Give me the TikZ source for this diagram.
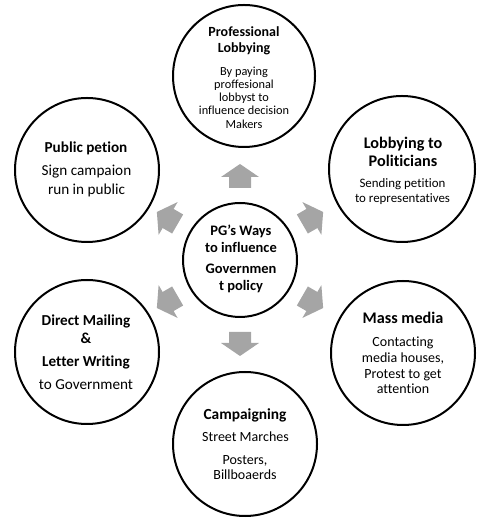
\documentclass[tikz,border=0pt]{standalone}
\usepackage{fontspec}
\setmainfont{Carlito}[Ligatures={NoCommon}]
\definecolor{arrowgray}{HTML}{A5A5A5}
\begin{document}
\begin{tikzpicture}[x=1pt,y=1pt,
  circ/.style={draw=black, line width=2pt, circle, inner sep=0pt, fill=white},
  ttl/.style={align=center, inner sep=0pt, font=\bfseries},
  txt/.style={align=center, inner sep=0pt},
  blockarrow/.style={fill=arrowgray, draw=none}]
\useasboundingbox (0,0) rectangle (500,526);
% circles
\node[circ, minimum size=142pt] (top) at (244,450) {};
\node[circ, minimum size=144pt] (ul) at (87,356) {};
\node[circ, minimum size=146pt] (ur) at (402,357) {};
\node[circ, minimum size=114pt] (ctr) at (240,266) {};
\node[circ, minimum size=144pt] (ll) at (87,174) {};
\node[circ, minimum size=144pt] (lr) at (403,173) {};
\node[circ, minimum size=144pt] (bot) at (245,82) {};
% block arrows
\foreach \a in {90,30,-30,-90,-150,150}{
  \fill[blockarrow, shift={(ctr.center)}, rotate=\a]
    (72,-11) -- (83,-11) -- (83,-19) -- (96,0) -- (83,19) -- (83,11) -- (72,11) -- cycle;
}
% top
\node[ttl, font=\bfseries\fontsize{14}{16}\selectfont] (toptitle) at (244,485) {Professional\\Lobbying};
\node[txt, font=\fontsize{12.3}{13.3}\selectfont] (toptext) at (244,428.5) {By paying\\proffesional\\lobbyst to\\influence decision\\Makers};
% upper left
\node[ttl, font=\bfseries\fontsize{15.2}{18}\selectfont] (ultitle) at (86,378) {Public petion};
\node[txt, font=\fontsize{15.2}{19}\selectfont] (ultext) at (86.5,344.5) {Sign campaion\\run in public};
% upper right
\node[ttl, font=\bfseries\fontsize{16.2}{18}\selectfont] (urtitle) at (403,374) {Lobbying to\\Politicians};
\node[txt, font=\fontsize{12.9}{14.5}\selectfont] (urtext) at (402.5,334.5) {Sending petition\\to representatives};
% center
\node[ttl, font=\bfseries\fontsize{14.5}{17}\selectfont] (ctrtitle) at (241,287.5) {PG\char"27 s Ways\\to influence};
\node[ttl, font=\bfseries\fontsize{14.5}{17}\selectfont] (ctrtext) at (241,247.5) {Governmen\\t policy};
% lower left
\node[ttl, font=\bfseries\fontsize{15.2}{18}\selectfont] (lltitle) at (86,197) {Direct Mailing\\\&};
\node[ttl, font=\bfseries\fontsize{15.2}{18}\selectfont] (llsub) at (86,164) {Letter Writing};
\node[txt, font=\fontsize{15.2}{18}\selectfont] (lltext) at (86,141) {to Government};
% lower right
\node[ttl, font=\bfseries\fontsize{16.2}{18}\selectfont] (lrtitle) at (403,208) {Mass media};
\node[txt, font=\fontsize{14}{15.7}\selectfont] (lrtext) at (403,160.5) {Contacting\\media houses,\\Protest to get\\attention};
% bottom
\node[ttl, font=\bfseries\fontsize{15.4}{18}\selectfont] (bottitle) at (245,111) {Campaigning};
\node[txt, font=\fontsize{14}{16}\selectfont] (botsub) at (245.5,89) {Street Marches};
\node[txt, font=\fontsize{14}{15}\selectfont] (bottext) at (245,58.5) {Posters,\\Billboaerds};
\end{tikzpicture}
\end{document}
